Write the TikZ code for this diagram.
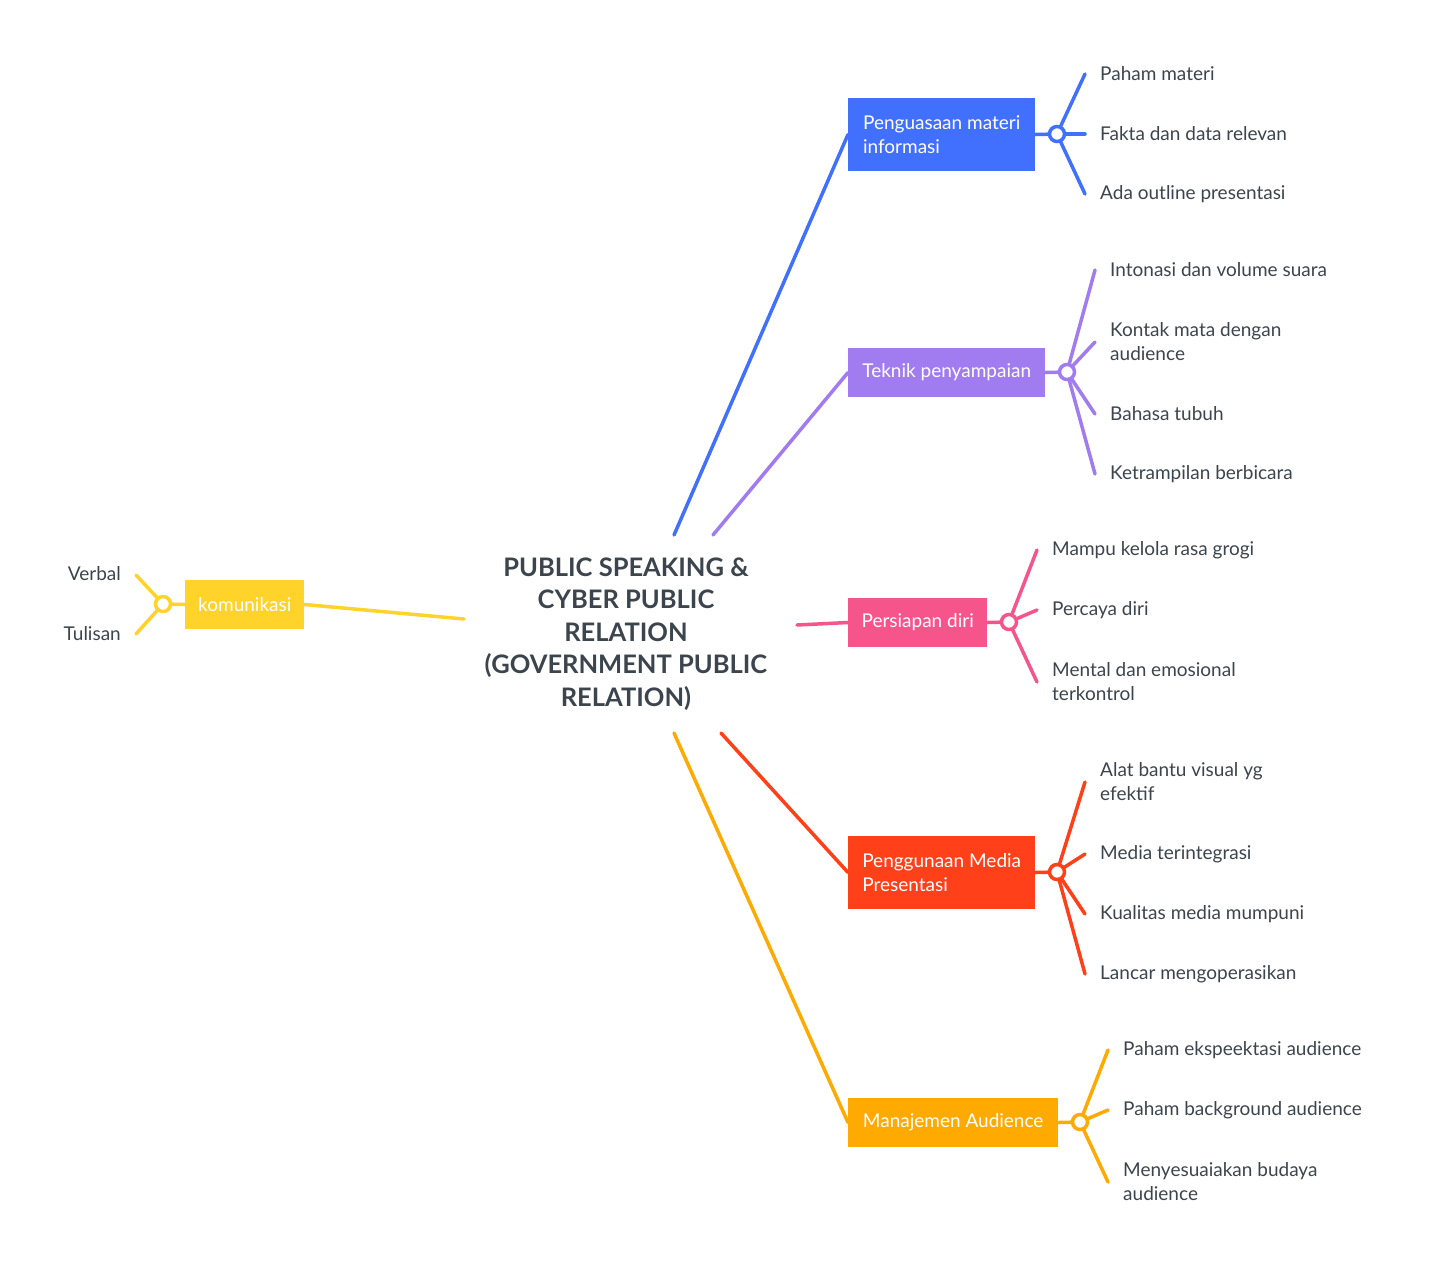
\documentclass[tikz,border=0pt]{standalone}
\usepackage{fontspec}
\setmainfont{Lato}
\begin{document}
\begin{tikzpicture}[x=1pt,y=-1pt,
  conn/.style={line width=3.5pt,line cap=round},
  hub/.style={circle,draw=#1,fill=white,line width=3.5pt,minimum size=15pt,inner sep=0pt},
  box/.style={fill=#1,text=white,anchor=west,align=left,inner xsep=0pt,inner ysep=0pt,font=\fontsize{19}{24}\selectfont},
  leaf/.style={anchor=west,align=left,inner sep=0pt,text=txt,font=\fontsize{19}{24}\selectfont},
  leafr/.style={anchor=east,align=right,inner sep=0pt,text=txt,font=\fontsize{19}{24}\selectfont}]
\definecolor{txt}{HTML}{3C454D}
\definecolor{cblue}{HTML}{4170FF}
\definecolor{cpurple}{HTML}{A07CF0}
\definecolor{cpink}{HTML}{F5558A}
\definecolor{cred}{HTML}{FF4019}
\definecolor{corange}{HTML}{FFAA00}
\definecolor{cyellow}{HTML}{FFD32A}
\useasboundingbox[fill=white] (0,0) rectangle (1430,1270);

% root
\node[align=center,text=txt,font=\bfseries\fontsize{25.5}{32.5}\selectfont] (root) at (626,634)
  {PUBLIC SPEAKING \&\\CYBER PUBLIC\\RELATION\\(GOVERNMENT PUBLIC\\RELATION)};
\coordinate (sb) at (674,535);
\coordinate (sp) at (713,535);
\coordinate (sk) at (797,625);
\coordinate (sr) at (721,733);
\coordinate (so) at (674,733);
\coordinate (sy) at (464,619);

% boxes
\node[box=cblue,minimum width=187pt,minimum height=73pt] (bB) at (848,134.5) {Penguasaan materi\\informasi};
\node[box=cpurple,minimum width=197pt,minimum height=49pt] (bP) at (848,372.5) {Teknik penyampaian};
\node[box=cpink,minimum width=139pt,minimum height=49pt] (bK) at (848,622.5) {Persiapan diri};
\node[box=cred,minimum width=187pt,minimum height=73pt] (bR) at (848,872.5) {Penggunaan Media\\Presentasi};
\node[box=corange,minimum width=210pt,minimum height=49pt] (bO) at (848,1122.5) {Manajemen Audience};
\node[box=cyellow,anchor=east,minimum width=119pt,minimum height=49pt] (bY) at (304.5,604.5) {komunikasi};

% main connectors
\draw[conn,cblue] (sb) -- (bB.west);
\draw[conn,cpurple] (sp) -- (bP.west);
\draw[conn,cpink] (sk) -- (bK.west);
\draw[conn,cred] (sr) -- (bR.west);
\draw[conn,corange] (so) -- (bO.west);
\draw[conn,cyellow] (sy) -- (bY.east);

% blue leaves
\coordinate (hB) at (1057,134);
\coordinate (lB1) at (1085,74);
\coordinate (lB2) at (1085,134);
\coordinate (lB3) at (1085,194);
\draw[conn,cblue] (bB.east) -- (hB);
\foreach \i in {1,2,3} \draw[conn,cblue] (hB) -- (lB\i);
\node[hub=cblue] (nB) at (hB) {};
\node[leaf] (tB1) at (1100,74) {Paham materi};
\node[leaf] (tB2) at (1100,134) {Fakta dan data relevan};
\node[leaf] (tB3) at (1100,194) {Ada outline presentasi};

% purple leaves
\coordinate (hP) at (1067,372);
\coordinate (lP1) at (1095,270);
\coordinate (lP2) at (1095,342);
\coordinate (lP3) at (1095,414);
\coordinate (lP4) at (1095,474);
\draw[conn,cpurple] (bP.east) -- (hP);
\foreach \i in {1,2,3,4} \draw[conn,cpurple] (hP) -- (lP\i);
\node[hub=cpurple] (nP) at (hP) {};
\node[leaf] (tP1) at (1110,270) {Intonasi dan volume suara};
\node[leaf] (tP2) at (1110,342) {Kontak mata dengan\\audience};
\node[leaf] (tP3) at (1110,414) {Bahasa tubuh};
\node[leaf] (tP4) at (1110,474) {Ketrampilan berbicara};

% pink leaves
\coordinate (hK) at (1009,622);
\coordinate (lK1) at (1037,550);
\coordinate (lK2) at (1037,610);
\coordinate (lK3) at (1037,682);
\draw[conn,cpink] (bK.east) -- (hK);
\foreach \i in {1,2,3} \draw[conn,cpink] (hK) -- (lK\i);
\node[hub=cpink] (nK) at (hK) {};
\node[leaf] (tK1) at (1052,550) {Mampu kelola rasa grogi};
\node[leaf] (tK2) at (1052,610) {Percaya diri};
\node[leaf] (tK3) at (1052,682) {Mental dan emosional\\terkontrol};

% red leaves
\coordinate (hR) at (1057,872);
\coordinate (lR1) at (1085,782);
\coordinate (lR2) at (1085,854);
\coordinate (lR3) at (1085,914);
\coordinate (lR4) at (1085,974);
\draw[conn,cred] (bR.east) -- (hR);
\foreach \i in {1,2,3,4} \draw[conn,cred] (hR) -- (lR\i);
\node[hub=cred] (nR) at (hR) {};
\node[leaf] (tR1) at (1100,782) {Alat bantu visual yg\\efektif};
\node[leaf] (tR2) at (1100,854) {Media terintegrasi};
\node[leaf] (tR3) at (1100,914) {Kualitas media mumpuni};
\node[leaf] (tR4) at (1100,974) {Lancar mengoperasikan};

% orange leaves
\coordinate (hO) at (1080,1122);
\coordinate (lO1) at (1108,1050);
\coordinate (lO2) at (1108,1110);
\coordinate (lO3) at (1108,1182);
\draw[conn,corange] (bO.east) -- (hO);
\foreach \i in {1,2,3} \draw[conn,corange] (hO) -- (lO\i);
\node[hub=corange] (nO) at (hO) {};
\node[leaf] (tO1) at (1123,1050) {Paham ekspeektasi audience};
\node[leaf] (tO2) at (1123,1110) {Paham background audience};
\node[leaf] (tO3) at (1123,1182) {Menyesuaiakan budaya\\audience};

% yellow leaves
\coordinate (hY) at (163,604);
\coordinate (lY1) at (136,575);
\coordinate (lY2) at (136,634);
\draw[conn,cyellow] (bY.west) -- (hY);
\foreach \i in {1,2} \draw[conn,cyellow] (hY) -- (lY\i);
\node[hub=cyellow] (nY) at (hY) {};
\node[leafr] (tY1) at (121,574) {Verbal};
\node[leafr] (tY2) at (121,634) {Tulisan};
\end{tikzpicture}
\end{document}
